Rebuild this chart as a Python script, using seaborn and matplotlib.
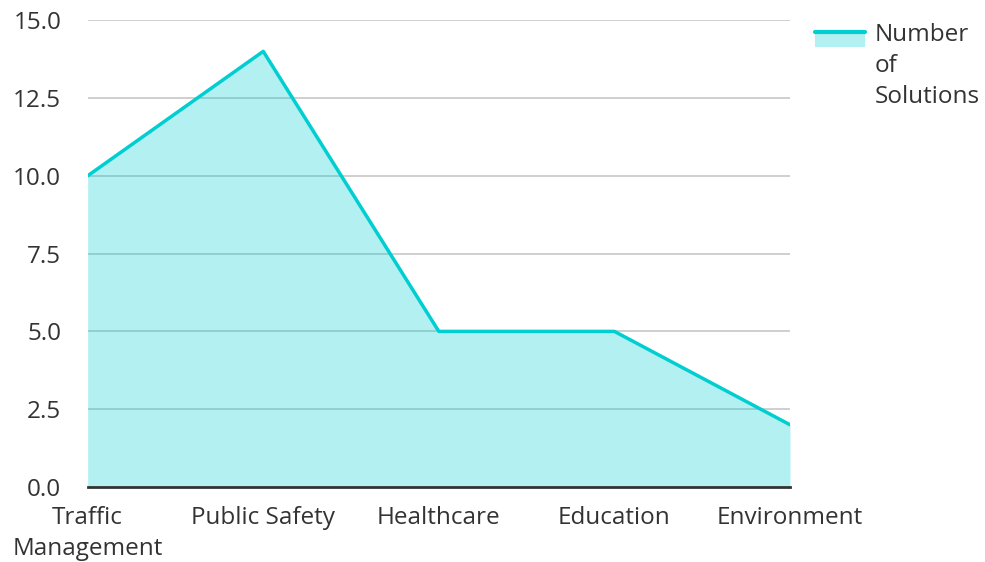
import matplotlib
matplotlib.use("Agg")
import matplotlib.pyplot as plt
import seaborn as sns
import pandas as pd
from matplotlib.lines import Line2D
from matplotlib.patches import Patch, Rectangle
from matplotlib.legend_handler import HandlerBase

# chart data
categories = ["Traffic\nManagement", "Public Safety", "Healthcare", "Education", "Environment"]
solutions = [10, 14, 5, 5, 2]
y_ticks = [0.0, 2.5, 5.0, 7.5, 10.0, 12.5, 15.0]

line_color = "#00CED1"
text_color = "#333333"
font_size = 17.5


class AreaHandler(HandlerBase):
    # light box with the line along its top edge, lifted to the first text line
    lift = 19

    def create_artists(self, legend, orig_handle, xdescent, ydescent,
                       width, height, fontsize, trans):
        top = height * 1.1
        y0 = -ydescent + self.lift
        box = Rectangle((-xdescent, y0), width, top, facecolor=line_color,
                        alpha=0.3, edgecolor="none", transform=trans)
        line = Line2D([-xdescent, width - xdescent], [y0 + top] * 2,
                      color=line_color, linewidth=3, transform=trans)
        return [box, line]


sns.set_theme(style="white")
plt.rcParams["font.family"] = ["Open Sans", "DejaVu Sans"]

df = pd.DataFrame({"pos": range(len(categories)), "value": solutions})

fig = plt.figure(figsize=(9.85, 5.62), dpi=100)
ax = fig.add_axes([0.089, 0.1335, 0.713, 0.8305])

for t in y_ticks[1:]:
    ax.axhline(t, color="#cccccc", linewidth=1.3, zorder=1)

ax.fill_between(df["pos"], df["value"], 0, color=line_color, alpha=0.3, linewidth=0, zorder=2)
sns.lineplot(data=df, x="pos", y="value", color=line_color, linewidth=2.5, ax=ax, zorder=3)

ax.set_xlim(0, len(categories) - 1)
ax.set_ylim(0, 15)
ax.set_xticks(range(len(categories)))
ax.set_xticklabels(categories, fontsize=font_size, color=text_color, linespacing=1.35)
ax.set_yticks(y_ticks)
ax.set_yticklabels([f"{t:.1f}" for t in y_ticks], fontsize=font_size, color=text_color)
ax.tick_params(axis="y", length=0, pad=19)
ax.tick_params(axis="x", length=0, pad=14)
ax.set_xlabel("")
ax.set_ylabel("")

for side in ["top", "right", "left"]:
    ax.spines[side].set_visible(False)
ax.spines["bottom"].set_color("#333333")
ax.spines["bottom"].set_linewidth(2)
ax.spines["bottom"].set_zorder(4)

handle = Patch(label="Number\nof\nSolutions")
leg = fig.legend([handle], ["Number\nof\nSolutions"], loc="upper left",
                 bbox_to_anchor=(0.827, 0.959), frameon=False, fontsize=font_size,
                 handlelength=2.06, handleheight=0.5, handletextpad=0.41,
                 borderpad=0, borderaxespad=0,
                 handler_map={Patch: AreaHandler()})
for txt in leg.get_texts():
    txt.set_color(text_color)
    txt.set_linespacing(1.4)

fig.savefig("out.png", dpi=100)
